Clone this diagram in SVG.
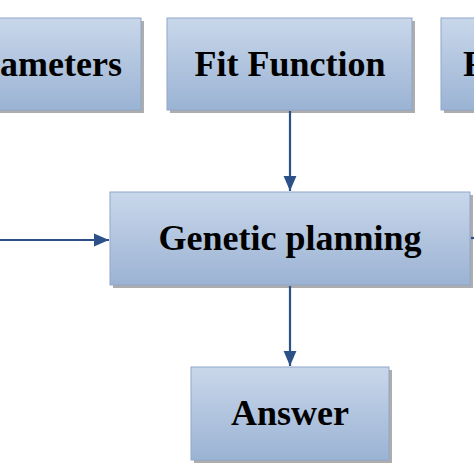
<svg xmlns="http://www.w3.org/2000/svg" width="474" height="474" viewBox="0 0 474 474">
<defs>
<linearGradient id="g" x1="0" y1="0" x2="0" y2="1">
<stop offset="0" stop-color="#c9d7ea"/>
<stop offset="1" stop-color="#9bb3d4"/>
</linearGradient>
<marker id="ah" viewBox="0 0 14 12" refX="14" refY="6" markerWidth="7" markerHeight="6" orient="auto" markerUnits="strokeWidth">
<path d="M0,0 L14,6 L0,12 z" fill="#2b5188"/>
</marker>
</defs>
<style>
.sh{fill:#8a8a8a;opacity:0.7}
.bx{fill:url(#g);stroke:#8fa7c9;stroke-width:1}
.t{font-family:"Liberation Serif","Times New Roman",serif;font-weight:bold;font-size:36px;fill:#000}
.c{stroke:#2b5188;stroke-width:2.2;fill:none}
</style>
<rect width="474" height="474" fill="#fff"/>
<g id="parameters">
<rect class="sh" x="-7" y="21" width="151" height="92"/>
<rect class="bx" x="-10" y="18" width="151" height="92"/>
<text class="t" x="122" y="76" text-anchor="end">ameters</text>
</g>
<g id="fit-function">
<rect class="sh" x="170" y="21" width="245" height="92"/>
<rect class="bx" x="167" y="18" width="245" height="92"/>
<text class="t" x="290" y="76" text-anchor="middle">Fit Function</text>
</g>
<g id="right-box">
<rect class="sh" x="444" y="21" width="60" height="92"/>
<rect class="bx" x="441" y="18" width="60" height="92"/>
<text class="t" x="463" y="76">F</text>
</g>
<g id="genetic-planning">
<rect class="sh" x="113" y="195" width="360" height="93"/>
<rect class="bx" x="110" y="192" width="360" height="93"/>
<text class="t" x="290" y="250" text-anchor="middle">Genetic planning</text>
</g>
<g id="answer">
<rect class="sh" x="194" y="370" width="198" height="93"/>
<rect class="bx" x="191" y="367" width="198" height="93"/>
<text class="t" x="290" y="425" text-anchor="middle">Answer</text>
</g>
<g id="connectors">
<line class="c" x1="290" y1="111" x2="290" y2="191" marker-end="url(#ah)"/>
<line class="c" x1="290" y1="286" x2="290" y2="366" marker-end="url(#ah)"/>
<line class="c" x1="0" y1="240" x2="109" y2="240" marker-end="url(#ah)"/>
<line class="c" x1="471" y1="238" x2="474" y2="238"/>
</g>
</svg>
